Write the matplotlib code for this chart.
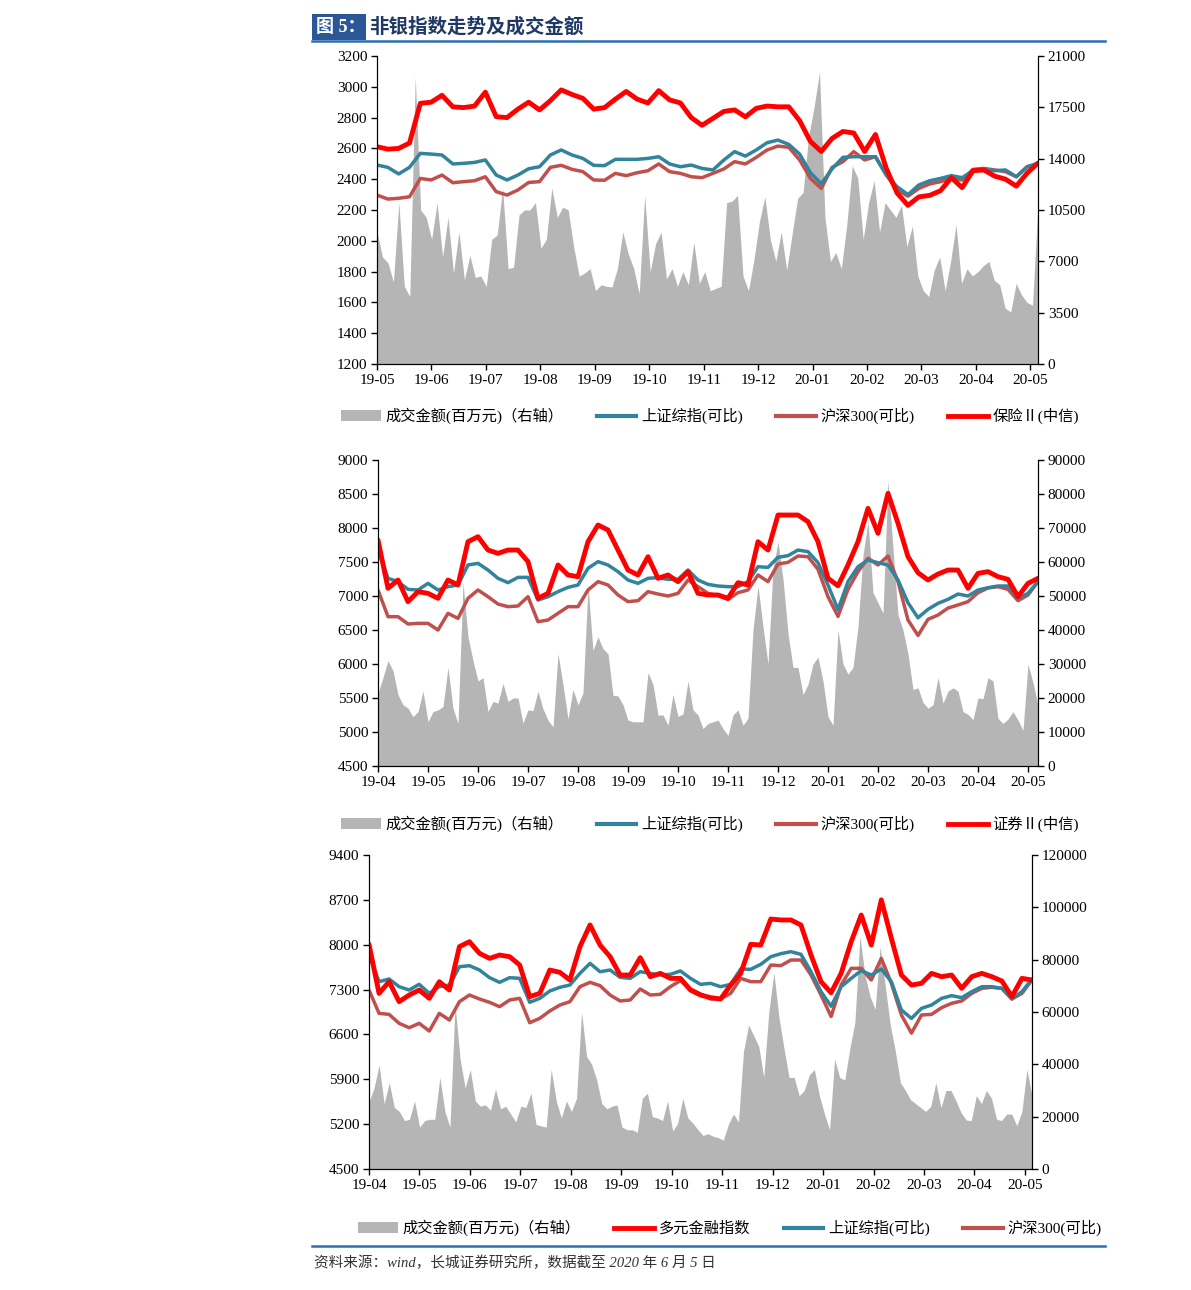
import matplotlib.pyplot as plt
from matplotlib.patches import Patch, Rectangle
from matplotlib.lines import Line2D
import numpy as np

plt.rcParams['font.family'] = ['Liberation Serif', 'Noto Sans CJK SC']
plt.rcParams['axes.unicode_minus'] = False

# ---------------- dados ----------------
# painel 1: 19-05 .. 20-06, eixo x em meses desde 2019-05
meses_p1 = ['19-05', '19-06', '19-07', '19-08', '19-09', '19-10', '19-11',
            '19-12', '20-01', '20-02', '20-03', '20-04', '20-05']
fim_p1 = 12.14
seguros = [2611, 2595, 2600, 2635, 2893, 2900, 2945, 2870, 2865, 2875,
           2965, 2806, 2800, 2855, 2900, 2850, 2910, 2980, 2950, 2925,
           2855, 2865, 2920, 2970, 2920, 2895, 2975, 2915, 2895, 2800,
           2750, 2795, 2840, 2850, 2805, 2860, 2875, 2870, 2870, 2780,
           2645, 2580, 2665, 2710, 2700, 2580, 2690, 2470, 2310, 2230,
           2285, 2295, 2325, 2410, 2345, 2455, 2460, 2420, 2400, 2355,
           2440, 2505]
sz_p1 = [2492, 2477, 2434, 2477, 2568, 2563, 2557, 2499, 2503, 2509,
         2525, 2427, 2395, 2427, 2468, 2481, 2557, 2590, 2557, 2535,
         2490, 2488, 2529, 2529, 2529, 2535, 2546, 2499, 2481, 2492,
         2470, 2460, 2524, 2579, 2550, 2590, 2637, 2654, 2626, 2563,
         2442, 2370, 2468, 2542, 2546, 2546, 2546, 2427, 2351, 2300,
         2362, 2390, 2405, 2423, 2410, 2455, 2466, 2455, 2460, 2416,
         2481, 2503]
hs300_p1 = [2297, 2271, 2276, 2286, 2405, 2395, 2427, 2377, 2384, 2390,
            2416, 2319, 2297, 2330, 2379, 2384, 2477, 2490, 2464, 2449,
            2395, 2393, 2438, 2423, 2442, 2455, 2499, 2449, 2438, 2416,
            2410, 2438, 2466, 2514, 2499, 2542, 2590, 2615, 2607, 2525,
            2405, 2340, 2477, 2514, 2579, 2525, 2546, 2427, 2330, 2290,
            2340, 2369, 2384, 2405, 2395, 2464, 2470, 2460, 2449, 2416,
            2481, 2500]
vol_p1 = [9000, 7300, 6900, 5600, 11000, 5300, 4600, 19600, 10500, 10000,
          8500, 11000, 7300, 10000, 6200, 9000, 5750, 7400, 5900, 6000,
          5300, 8500, 8800, 12000, 6500, 6600, 10160, 10500, 10500, 11000,
          7900, 8500, 12000, 10000, 10700, 10500, 8000, 6000, 6200, 6500,
          5000, 5400, 5300, 5250, 6500, 9000, 7500, 6500, 4800, 11500,
          6300, 8200, 9000, 5800, 6500, 5300, 6300, 5400, 8300, 5500,
          6300, 5000, 5150, 5300, 11000, 11100, 11500, 6000, 5000, 7100,
          9700, 11400, 8500, 7000, 9000, 6400, 8900, 11300, 11700, 15500,
          17500, 19900, 10000, 7000, 7600, 6500, 9500, 13500, 12700, 8500,
          11000, 12500, 9000, 11000, 10500, 10000, 10800, 8000, 9400, 6000,
          5000, 4600, 6400, 7300, 5000, 7000, 9500, 5500, 6500, 6000,
          6300, 6700, 7000, 5700, 5400, 3800, 3550, 5500, 4700, 4200,
          4000, 11000]

# painel 2: 19-04 .. 20-06
meses_p2 = ['19-04', '19-05', '19-06', '19-07', '19-08', '19-09', '19-10',
            '19-11', '19-12', '20-01', '20-02', '20-03', '20-04', '20-05']
fim_p2 = 13.2
corretoras = [7823, 7113, 7235, 6917, 7064, 7039, 6966, 7235, 7162, 7799,
              7872, 7676, 7627, 7676, 7676, 7505, 6966, 7039, 7456, 7309,
              7284, 7799, 8044, 7971, 7676, 7382, 7309, 7578, 7260, 7309,
              7211, 7358, 7039, 7015, 7015, 6966, 7196, 7162, 7799, 7676,
              8191, 8191, 8191, 8093, 7799, 7260, 7150, 7456, 7799, 8289,
              7922, 8510, 8069, 7578, 7343, 7235, 7323, 7382, 7382, 7113,
              7333, 7358, 7284, 7245, 6990, 7186, 7260]
sz_p2 = [7676, 7260, 7211, 7098, 7088, 7186, 7088, 7137, 7162, 7456,
         7480, 7382, 7260, 7196, 7274, 7274, 6941, 6990, 7064, 7127,
         7162, 7407, 7505, 7456, 7358, 7235, 7186, 7260, 7270, 7245,
         7245, 7382, 7235, 7171, 7147, 7137, 7137, 7211, 7431, 7421,
         7569, 7593, 7676, 7652, 7490, 7162, 6800, 7211, 7431, 7529,
         7490, 7456, 7235, 6900, 6680, 6804, 6892, 6951, 7029, 7000,
         7088, 7122, 7147, 7147, 6966, 7039, 7211]
hs300_p2 = [7088, 6696, 6696, 6588, 6598, 6598, 6500, 6745, 6671, 6966,
            7088, 6990, 6882, 6843, 6853, 6990, 6622, 6647, 6745, 6843,
            6843, 7088, 7211, 7162, 7015, 6917, 6931, 7064, 7029, 7000,
            7039, 7235, 7137, 7039, 7005, 6951, 7049, 7088, 7309, 7211,
            7470, 7495, 7588, 7578, 7392, 6990, 6700, 7098, 7358, 7554,
            7456, 7588, 7211, 6647, 6420, 6657, 6720, 6823, 6868, 6917,
            7049, 7118, 7137, 7098, 6931, 7015, 7211]
vol_p2 = [21400, 26000, 31000, 28000, 21000, 18000, 17000, 14500, 16000, 22000,
          13000, 16000, 16500, 17500, 29000, 17000, 12500, 54000, 38000, 31000,
          25000, 26000, 16000, 19000, 18500, 24300, 19000, 20000, 20000, 12600,
          16500, 16300, 22000, 16800, 13500, 11500, 33000, 24000, 13800, 22500,
          18000, 21500, 53000, 34000, 38000, 34500, 33000, 20800, 20600, 18000,
          13500, 13000, 13000, 13000, 27500, 24000, 15000, 15000, 12000, 21000,
          14600, 15300, 25000, 16500, 15000, 11000, 12500, 13000, 13500, 11000,
          9000, 15000, 16500, 12000, 14000, 40000, 53000, 41000, 30000, 58000,
          66000, 55000, 39000, 29000, 29000, 21000, 24000, 30000, 32000, 25000,
          14500, 12000, 40000, 30000, 27000, 29000, 41000, 62000, 72000, 51000,
          48000, 45000, 84000, 64000, 44500, 40000, 33000, 22500, 23000, 18700,
          17000, 18000, 26000, 18500, 22000, 23000, 22000, 16000, 15200, 13600,
          20000, 19800, 26000, 25000, 14000, 12500, 13800, 16000, 13500, 10500,
          30000, 24500, 18000]

# painel 3: 19-04 .. 20-06
meses_p3 = meses_p2
fim_p3 = 13.14
diversificadas = [8006, 7241, 7423, 7111, 7215, 7293, 7163, 7423, 7293, 7970,
                  8047, 7865, 7787, 7839, 7813, 7683, 7189, 7241, 7605, 7569,
                  7449, 7970, 8308, 7995, 7813, 7527, 7527, 7798, 7501, 7553,
                  7475, 7475, 7293, 7215, 7174, 7153, 7371, 7553, 8006, 7995,
                  8401, 8386, 8386, 8308, 7839, 7423, 7250, 7553, 8047, 8464,
                  7995, 8700, 8100, 7527, 7371, 7397, 7553, 7501, 7527, 7319,
                  7501, 7553, 7501, 7434, 7189, 7475, 7449]
sz_p3 = [7839, 7423, 7465, 7345, 7293, 7382, 7241, 7345, 7371, 7657,
         7673, 7605, 7486, 7413, 7486, 7475, 7101, 7163, 7278, 7335,
         7371, 7553, 7709, 7579, 7605, 7491, 7475, 7579, 7553, 7527,
         7538, 7590, 7475, 7382, 7397, 7345, 7382, 7621, 7616, 7694,
         7813, 7860, 7891, 7850, 7579, 7267, 7040, 7345, 7475, 7595,
         7527, 7621, 7423, 6981, 6850, 7007, 7059, 7163, 7205, 7174,
         7267, 7345, 7345, 7319, 7153, 7267, 7465]
hs300_p3 = [7293, 6929, 6913, 6773, 6705, 6773, 6653, 6929, 6825, 7111,
            7215, 7153, 7101, 7033, 7137, 7163, 6783, 6851, 6966, 7059,
            7111, 7345, 7413, 7361, 7215, 7122, 7137, 7309, 7215, 7226,
            7345, 7439, 7309, 7231, 7153, 7153, 7241, 7475, 7423, 7423,
            7683, 7673, 7761, 7761, 7527, 7215, 6880, 7371, 7631, 7631,
            7449, 7787, 7397, 6903, 6620, 6903, 6913, 7018, 7085, 7122,
            7241, 7319, 7335, 7319, 7153, 7241, 7449]
vol_p3 = [25700, 31000, 39700, 25000, 33000, 23500, 22000, 18500, 19000, 26000,
          16000, 18500, 19000, 19000, 35000, 22000, 16000, 63000, 42000, 31000,
          38000, 26000, 24000, 24500, 22500, 30500, 23000, 24000, 21000, 18000,
          24000, 23500, 29000, 17000, 16500, 16000, 38000, 26000, 19500, 26000,
          22000, 27000, 60000, 43000, 40000, 34000, 25000, 23000, 24000, 24500,
          16000, 15000, 15000, 14000, 27000, 29000, 20000, 19500, 18500, 26000,
          14500, 17500, 27000, 19500, 17500, 15000, 12800, 13500, 12500, 12000,
          11000, 17000, 21000, 18000, 45000, 55000, 51000, 47000, 35000, 60000,
          75000, 58000, 46000, 35000, 35000, 28000, 30000, 36000, 38000, 28000,
          21000, 15000, 42000, 35000, 34000, 46000, 56000, 89000, 74000, 66000,
          61000, 85000, 70000, 55000, 45000, 33000, 30000, 26500, 25000, 23500,
          22000, 24000, 33000, 23500, 30000, 30000, 26000, 21500, 18700, 18500,
          28000, 25000, 30000, 27000, 19000, 18500, 21000, 21000, 16500, 22000,
          38000, 28000]

CINZA = '#b5b5b5'
AZUL = '#31849b'
ROSA = '#c0504d'
VERMELHO = '#ff0000'
FS = 11

fig = plt.figure(figsize=(11.91, 12.90), dpi=100)


def px(x, y):
    """pixel -> coordenada da figura"""
    return x / 1191, 1 - y / 1290


def painel(ret, meses, fim, vol, series, esq, dir_):
    ax = fig.add_axes(ret)
    ax2 = ax.twinx()
    tv = np.linspace(0, fim, len(vol))
    ax2.fill_between(tv, vol, 0, color=CINZA, lw=0)
    for valores, cor, lw in series:
        t = np.linspace(0, fim, len(valores))
        ax.plot(t, valores, color=cor, lw=lw, solid_joinstyle='round',
                solid_capstyle='round')
    ax.set_zorder(ax2.get_zorder() + 1)
    ax.patch.set_visible(False)

    ax.set_xlim(0, fim)
    ax.set_xticks(range(len(meses)))
    ax.set_xticklabels(meses)
    ax.set_ylim(esq[0], esq[1])
    ax.set_yticks(np.arange(esq[0], esq[1] + 1, esq[2]))
    ax2.set_ylim(0, dir_[0])
    ax2.set_yticks(np.arange(0, dir_[0] + 1, dir_[1]))
    for a in (ax, ax2):
        a.spines['top'].set_visible(False)
        a.tick_params(direction='out', length=4, width=1, labelsize=FS, pad=3)
    return ax, ax2


def legenda(handles, rotulos, cx, cy):
    fig.legend(handles, rotulos, loc='center', bbox_to_anchor=px(cx, cy),
               ncol=len(handles), frameon=False, fontsize=FS,
               handlelength=2.6, handleheight=0.7, handletextpad=0.3,
               columnspacing=2.2)


h_vol = Patch(facecolor=CINZA, edgecolor='none')
h_sz = Line2D([], [], color=AZUL, lw=3)
h_hs = Line2D([], [], color=ROSA, lw=3)
h_red = Line2D([], [], color=VERMELHO, lw=3.5)
rot_vol = '成交金额(百万元)（右轴）'

# painel 1
x0, y0 = px(377, 364)
x1, y1 = px(1038, 56)
painel([x0, y0, x1 - x0, y1 - y0], meses_p1, fim_p1, vol_p1,
       [(hs300_p1, ROSA, 2.5), (sz_p1, AZUL, 2.5), (seguros, VERMELHO, 3.5)],
       (1200, 3200, 200), (21000, 3500))
legenda([h_vol, h_sz, h_hs, h_red],
        [rot_vol, '上证综指(可比)', '沪深300(可比)', '保险Ⅱ(中信)'], 710, 416)

# painel 2
x0, y0 = px(378, 766)
x1, y1 = px(1038, 460)
painel([x0, y0, x1 - x0, y1 - y0], meses_p2, fim_p2, vol_p2,
       [(hs300_p2, ROSA, 2.5), (sz_p2, AZUL, 2.5), (corretoras, VERMELHO, 3.5)],
       (4500, 9000, 500), (90000, 10000))
legenda([h_vol, h_sz, h_hs, h_red],
        [rot_vol, '上证综指(可比)', '沪深300(可比)', '证券Ⅱ(中信)'], 710, 824)

# painel 3
x0, y0 = px(369, 1169)
x1, y1 = px(1032, 855)
painel([x0, y0, x1 - x0, y1 - y0], meses_p3, fim_p3, vol_p3,
       [(hs300_p3, ROSA, 2.5), (sz_p3, AZUL, 2.5), (diversificadas, VERMELHO, 3.5)],
       (4500, 9400, 700), (120000, 20000))
legenda([h_vol, h_red, h_sz, h_hs],
        [rot_vol, '多元金融指数', '上证综指(可比)', '沪深300(可比)'], 730, 1228)

# título
bx, by = px(312, 40)
fig.patches.append(Rectangle((bx, by), 54 / 1191, 26 / 1290, transform=fig.transFigure,
                             facecolor='#2b5797', edgecolor='none'))
fig.text(*px(316, 27), '图 5：', color='white', fontsize=13, fontweight='bold', va='center')
fig.text(*px(369, 27), '非银指数走势及成交金额', color='#1f3864', fontsize=14,
         fontweight='bold', va='center')
fig.add_artist(Line2D([312 / 1191, 1105 / 1191], [1 - 41 / 1290] * 2,
                      transform=fig.transFigure, color='#2e6db4', lw=1.8))
fig.add_artist(Line2D([312 / 1191, 1105 / 1191], [1 - 1246 / 1290] * 2,
                      transform=fig.transFigure, color='#2e6db4', lw=1.8))
fig.text(*px(314, 1263), '资料来源：wind，长城证券研究所，数据截至 2020 年 6 月 5 日',
         fontsize=10.5, style='italic', color='#333333', va='center')

fig.savefig('out.png', dpi=100)
